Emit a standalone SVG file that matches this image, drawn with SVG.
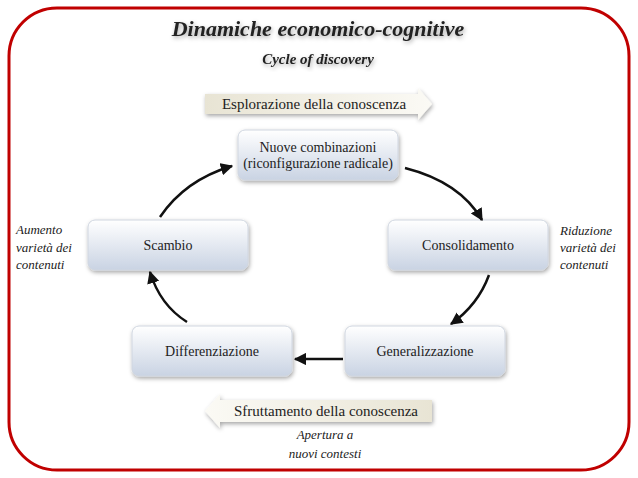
<svg xmlns="http://www.w3.org/2000/svg" width="638" height="478" viewBox="0 0 638 478">
<defs>
<linearGradient id="g" x1="0" y1="0" x2="0" y2="1"><stop offset="0" stop-color="#ffffff"/><stop offset="1" stop-color="#c9d3e3"/></linearGradient>
<linearGradient id="b" x1="0" y1="0" x2="1" y2="0"><stop offset="0" stop-color="#e8e4d4"/><stop offset="1" stop-color="#fbfaf5"/></linearGradient>
<linearGradient id="b2" x1="0" y1="0" x2="1" y2="0"><stop offset="0" stop-color="#fbfaf5"/><stop offset="1" stop-color="#e8e4d4"/></linearGradient>
<marker id="ah" viewBox="0 0 10 10" refX="9" refY="5" markerWidth="5" markerHeight="5" orient="auto"><path d="M0,0L10,5L0,10z" fill="#111"/></marker>
<filter id="sh" x="-10%" y="-10%" width="130%" height="140%"><feDropShadow dx="1" dy="2" stdDeviation="2" flood-opacity="0.35"/></filter>
</defs>
<style>
.n{fill:url(#g);stroke:#d0d6e0;stroke-width:1;filter:url(#sh)}
.t{font-family:"Liberation Serif",serif;font-size:14px;fill:#222;text-anchor:middle}
.i{font-family:"Liberation Serif",serif;font-size:13px;font-style:italic;fill:#222}
.c{fill:none;stroke:#111;stroke-width:2.5;marker-end:url(#ah)}
</style>
<rect x="9" y="8" width="620" height="462" rx="48" fill="#fff" stroke="#c00000" stroke-width="3"/>
<text x="318" y="36" text-anchor="middle" font-family="Liberation Serif,serif" font-size="22" font-weight="bold" font-style="italic" fill="#222" filter="url(#sh)">Dinamiche economico-cognitive</text>
<text x="318" y="64" text-anchor="middle" font-family="Liberation Serif,serif" font-size="15" font-weight="bold" font-style="italic" fill="#222" filter="url(#sh)">Cycle of discovery</text>
<g id="esplorazione"><path d="M205,94H418V88L432,104L418,120V114H205z" fill="url(#b)" filter="url(#sh)"/><text class="t" x="314" y="109" style="font-size:15px">Esplorazione della conoscenza</text></g>
<g id="sfruttamento"><path d="M432,400H220V394L205,411L220,428V422H432z" fill="url(#b2)" filter="url(#sh)"/><text class="t" x="326" y="416" style="font-size:15px">Sfruttamento della conoscenza</text></g>
<g id="nuove"><rect class="n" x="238" y="130" width="160" height="50" rx="7"/><text class="t" x="318" y="152">Nuove combinazioni</text><text class="t" x="318" y="168">(riconfigurazione radicale)</text></g>
<g id="scambio"><rect class="n" x="88" y="220" width="160" height="50" rx="7"/><text class="t" x="168" y="250">Scambio</text></g>
<g id="consolidamento"><rect class="n" x="388" y="220" width="160" height="50" rx="7"/><text class="t" x="468" y="250">Consolidamento</text></g>
<g id="differenziazione"><rect class="n" x="132" y="326" width="160" height="50" rx="7"/><text class="t" x="212" y="356">Differenziazione</text></g>
<g id="generalizzazione"><rect class="n" x="345" y="326" width="160" height="50" rx="7"/><text class="t" x="425" y="356">Generalizzazione</text></g>
<g id="connectors">
<path class="c" d="M160,217Q185,180 232,166"/>
<path class="c" d="M405,168Q460,182 482,220"/>
<path class="c" d="M489,275Q478,305 451,324"/>
<path class="c" d="M343,359H295"/>
<path class="c" d="M187,322Q160,305 150,272"/>
</g>
<g id="labels">
<text class="i" x="16" y="234">Aumento</text><text class="i" x="16" y="252">varietà dei</text><text class="i" x="16" y="269">contenuti</text>
<text class="i" x="560" y="235">Riduzione</text><text class="i" x="560" y="252">varietà dei</text><text class="i" x="560" y="269">contenuti</text>
<text class="i" x="325" y="439" text-anchor="middle">Apertura a</text><text class="i" x="325" y="458" text-anchor="middle">nuovi contesti</text>
</g>
</svg>
